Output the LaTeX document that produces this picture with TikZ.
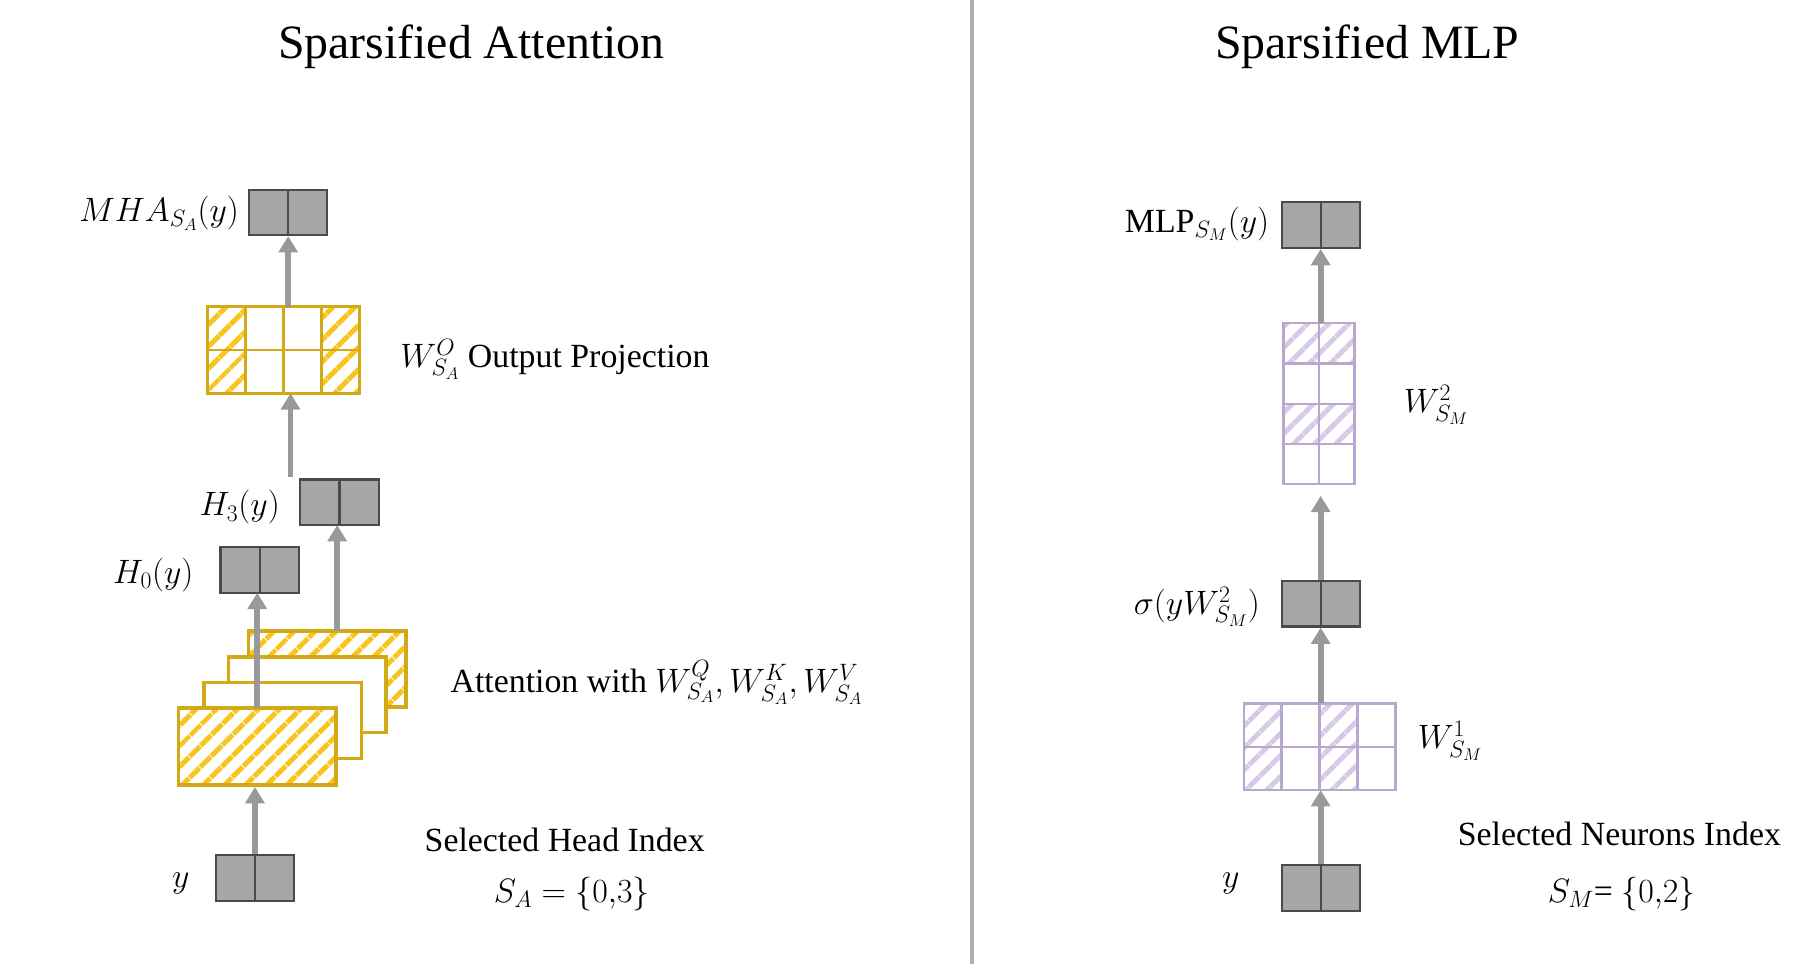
\documentclass[tikz,border=0pt]{standalone}
\usepackage{fix-cm}
\usepackage{fontspec}
\setmainfont{Liberation Serif}
\usetikzlibrary{patterns.meta,arrows.meta}
\definecolor{gfill}{HTML}{A6A6A6}
\definecolor{gline}{HTML}{4A4A4A}
\definecolor{arr}{HTML}{999999}
\definecolor{yel}{HTML}{F7C51E}
\definecolor{yelb}{HTML}{D2AA18}
\definecolor{pur}{HTML}{D6CAE6}
\definecolor{purb}{HTML}{B8A8CF}
\tikzset{
 gbox/.style={draw=gline,line width=1.8pt,fill=gfill,minimum width=67pt,minimum height=39pt,inner sep=0pt},
 conn/.style={draw=arr,line width=5pt,-{Triangle[length=14pt,width=16pt]}},
 yhatch/.style={preaction={fill=white},pattern={Lines[angle=45,distance=13pt,line width=4.5pt]},pattern color=yel},
 phatch/.style={pattern={Lines[angle=45,distance=13pt,line width=4.5pt]},pattern color=pur},
 lab/.style={font=\fontsize{29}{34}\selectfont,inner sep=0pt},
 ttl/.style={font=\fontsize{41}{46}\selectfont,inner sep=0pt},
}
\newcommand{\grbox}[3]{\node[gbox] (#1) at (#2,#3) {}; \draw[gline,line width=1.8pt] (#1.north)--(#1.south);}
\begin{document}
\begin{tikzpicture}[x=1pt,y=-1pt]
\useasboundingbox (0,0) rectangle (1560,826);
\draw[color=gfill!90,line width=3pt] (833,0)--(833,826);
\node[ttl] (t1) at (404,40) {Sparsified Attention};
\node[ttl] (t2) at (1172,40) {Sparsified MLP};
% ---- left
\grbox{mha}{247}{182}
\node[lab,anchor=east] (lmha) at (205,183) {$MHA_{S_A}(y)$};
\begin{scope}[line width=2.5pt]
\fill[yhatch] (178,263) rectangle (210.5,337);
\fill[yhatch] (275.5,263) rectangle (308,337);
\draw[yelb] (178,263) rectangle (308,337);
\foreach \x in {210.5,243,275.5} \draw[yelb] (\x,263)--(\x,337);
\draw[yelb] (178,300)--(308,300);
\end{scope}
\node[minimum width=130pt,minimum height=74pt,inner sep=0pt] (wo) at (247,300) {};
\node[lab,anchor=west] (lwo) at (343,308) {$W^{O}_{S_A}$ Output Projection};
\grbox{hthree}{291}{430.5}
\node[lab,anchor=east] (lh3) at (240,435) {$H_3(y)$};
\grbox{hzero}{222.5}{488.5}
\node[lab,anchor=east] (lh0) at (166,493) {$H_0(y)$};
% stack
\node[draw=yelb,line width=3pt,yhatch,minimum width=135pt,minimum height=65pt,inner sep=0pt] (s4) at (280.5,573.5) {};
\node[draw=yelb,line width=3pt,fill=white,minimum width=135pt,minimum height=65pt,inner sep=0pt] (s3) at (263.5,595.5) {};
\node[draw=yelb,line width=3pt,fill=white,minimum width=135pt,minimum height=65pt,inner sep=0pt] (s2) at (242.5,617.5) {};
\node[draw=yelb,line width=3pt,yhatch,minimum width=135pt,minimum height=66pt,inner sep=0pt] (s1) at (220.5,640) {};
\coordinate (s1t) at (220.5,607);
\coordinate (s4t) at (289,541);
\coordinate (h3b) at (289,450);
\coordinate (h0b) at (220.5,508);
\draw[conn] (s1t) -- (h0b);
\draw[conn] (s4t) -- (h3b);
\node[lab,anchor=west] (latt) at (386,585) {Attention with $W^{Q}_{S_A}, W^{K}_{S_A}, W^{V}_{S_A}$};
\grbox{ya}{218.5}{752.5}
\node[lab] (lya) at (155,757) {$y$};
\draw[conn] (ya.north) -- (ya.north |- s1.south);
\draw[conn] (wo.north) -- (mha.south);
\coordinate (a1) at (249,409);
\coordinate (a2) at (249,337);
\draw[conn] (a1) -- (a2);
\node[lab] (sel1) at (484,720) {Selected Head Index};
\node[lab] (sa) at (490,766) {$S_A = \{0{,}3\}$};
% ---- right
\grbox{mlp}{1132}{193}
\node[lab,anchor=east] (lmlp) at (1088,192) {MLP$_{S_M}(y)$};
\begin{scope}[line width=2pt]
\fill[phatch] (1100,277) rectangle (1161,311.5);
\fill[phatch] (1100,346) rectangle (1161,380.5);
\draw[purb] (1100,277) rectangle (1161,415);
\foreach \y in {311.5,346,380.5} \draw[purb] (1100,\y)--(1161,\y);
\draw[purb] (1130.5,277)--(1130.5,415);
\end{scope}
\node[minimum width=61pt,minimum height=138pt,inner sep=0pt] (w2) at (1132,346) {};
\node[lab,anchor=west] (lw2) at (1203,347) {$W^{2}_{S_M}$};
\grbox{sig}{1132}{517.5}
\node[lab,anchor=east] (lsig) at (1080,520) {$\sigma(yW^{2}_{S_M})$};
\begin{scope}[line width=2pt]
\fill[phatch] (1066,603) rectangle (1098.5,677);
\fill[phatch] (1131,603) rectangle (1163.5,677);
\draw[purb] (1066,603) rectangle (1196,677);
\foreach \x in {1098.5,1131,1163.5} \draw[purb] (\x,603)--(\x,677);
\draw[purb] (1066,640)--(1196,640);
\end{scope}
\node[minimum width=130pt,minimum height=74pt,inner sep=0pt] (w1) at (1132,640) {};
\node[lab,anchor=west] (lw1) at (1215,635) {$W^{1}_{S_M}$};
\grbox{ym}{1132}{761}
\node[lab] (lym) at (1055,757) {$y$};
\coordinate (w2b) at (1132,425);
\draw[conn] (w2.north) -- (mlp.south);
\draw[conn] (sig.north) -- (w2b);
\draw[conn] (w1.north) -- (sig.south);
\draw[conn] (ym.north) -- (w1.south);
\node[lab] (sel2) at (1388,715) {Selected Neurons Index};
\node[lab] (sm) at (1390,766) {$S_M$= $\{0{,}2\}$};
\end{tikzpicture}
\end{document}
